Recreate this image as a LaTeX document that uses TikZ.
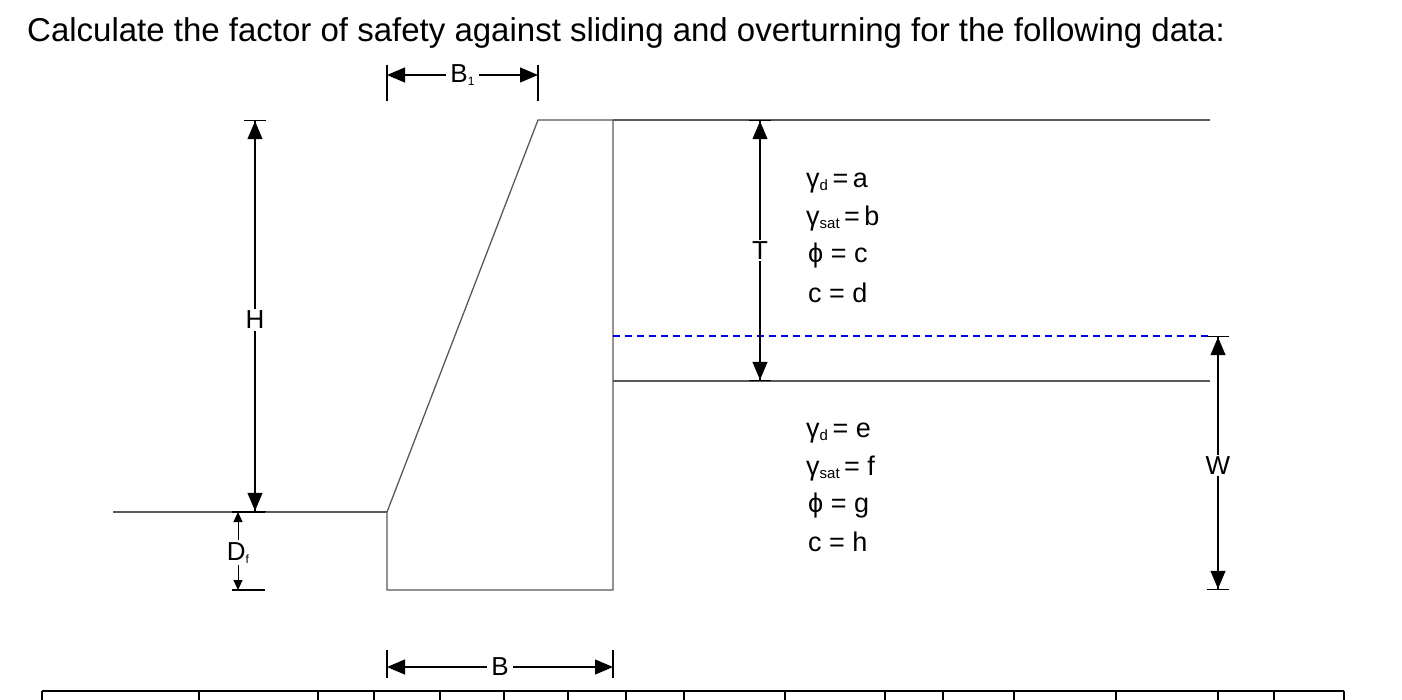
\documentclass[tikz,border=0pt]{standalone}
\usepackage{fontspec}
\setmainfont{Liberation Sans}
\usetikzlibrary{arrows.meta}
\begin{document}
\begin{tikzpicture}[x=1pt,y=-1pt,
  gl/.style={draw=black!65,line width=1.3pt},
  dim/.style={draw=black,line width=1.2pt,{Bar[width=22pt]Triangle[length=18pt,width=15pt]}-{Triangle[length=18pt,width=15pt]Bar[width=22pt]}},
  dimh/.style={draw=black,line width=1.2pt,{Triangle[length=18pt,width=15pt]}-{Triangle[length=18pt,width=15pt]}},
  lab/.style={fill=white,inner sep=2pt,font=\fontsize{26}{27}\selectfont},
  prop/.style={anchor=west,inner sep=0pt,font=\fontsize{27}{28}\selectfont}]
\useasboundingbox (0,0) rectangle (1402,700);
\node[anchor=west,inner sep=0pt,font=\fontsize{33}{34}\selectfont] (title) at (27,33) {Calculate the factor of safety against sliding and overturning for the following data:};
\coordinate (wb1) at (387,590); \coordinate (wb2) at (613,590);
\coordinate (wl) at (387,512); \coordinate (wt1) at (538,120); \coordinate (wt2) at (613,120);
\draw[gl] (wl) -- (wb1) -- (wb2) -- (wt2) -- (wt1) -- (wl);
\coordinate (g0) at (113,512); \draw[gl] (g0) -- (wl);
\coordinate (s1) at (613,120); \coordinate (s2) at (1210,120); \draw[gl] (s1) -- (s2);
\coordinate (l1) at (613,381); \coordinate (l2) at (1210,381); \draw[gl] (l1) -- (l2);
\coordinate (w1) at (613,336); \coordinate (w2) at (1210,336);
\draw[blue!85!black,line width=1.3pt,dash pattern=on 7pt off 5pt] (w1) -- (w2);
\coordinate (h1) at (255,120); \coordinate (h2) at (255,512);
\draw[dim] (h1) -- (h2) node[lab,pos=0.51] {H};
\coordinate (t1) at (760,120); \coordinate (t2) at (760,381);
\draw[dim] (t1) -- (t2) node[lab,pos=0.5] {T};
\coordinate (ww1) at (1218,336); \coordinate (ww2) at (1218,590);
\draw[dim] (ww1) -- (ww2) node[lab,pos=0.51] {W};
\coordinate (d1) at (238,512); \coordinate (d2) at (238,590);
\draw[draw=black,line width=1pt,{Triangle[length=10pt,width=9pt]}-{Triangle[length=10pt,width=9pt]}] (d1) -- (d2) node[lab,pos=0.52] {D\raisebox{-3pt}{\fontsize{12}{12}\selectfont f}};
\coordinate (dd1) at (232,590); \coordinate (dd2) at (265,590); \draw[line width=1.2pt] (dd1) -- (dd2);
\coordinate (dd3) at (232,512); \coordinate (dd4) at (265,512); \draw[line width=1.2pt] (dd3) -- (dd4);
\coordinate (b1a) at (387,75); \coordinate (b1b) at (538,75);
\coordinate (b1c) at (387,65); \coordinate (b1d) at (387,101);
\coordinate (b1e) at (538,65); \coordinate (b1f) at (538,101);
\draw[line width=1.2pt] (b1c) -- (b1d) (b1e) -- (b1f);
\draw[dimh] (b1a) -- (b1b) node[lab,pos=0.5,inner sep=4pt] {B\raisebox{-3pt}{\fontsize{12}{12}\selectfont 1}};
\coordinate (ba) at (387,667); \coordinate (bb) at (613,667);
\coordinate (bc) at (387,650); \coordinate (bd) at (387,678);
\coordinate (be) at (613,650); \coordinate (bf) at (613,678);
\draw[line width=1.2pt] (bc) -- (bd) (be) -- (bf);
\draw[dimh] (ba) -- (bb) node[lab,pos=0.5,inner sep=4pt] {B};
\node[prop] (p1) at (806,183) {γ\raisebox{-3pt}{\fontsize{15}{15}\selectfont d}\,=\,a};
\node[prop] (p2) at (806,219) {γ\raisebox{-3pt}{\fontsize{15}{15}\selectfont sat}\,=\,b};
\node[prop] (p3) at (808,256) {ϕ = c};
\node[prop] (p4) at (808,293) {c = d};
\node[prop] (q1) at (806,433) {γ\raisebox{-3pt}{\fontsize{15}{15}\selectfont d}\,= e};
\node[prop] (q2) at (806,469) {γ\raisebox{-3pt}{\fontsize{15}{15}\selectfont sat}\,= f};
\node[prop] (q3) at (808,506) {ϕ = g};
\node[prop] (q4) at (808,542) {c = h};
\coordinate (tb1) at (42,691); \coordinate (tb2) at (1344,691);
\draw[line width=2.5pt] (tb1) -- (tb2);
\foreach \x in {42,199,318,374,440,504,568,626,684,785,885,943,1014,1116,1218,1274,1344}
  \draw[line width=1.5pt] (\x,691) -- (\x,700);
\end{tikzpicture}
\end{document}
